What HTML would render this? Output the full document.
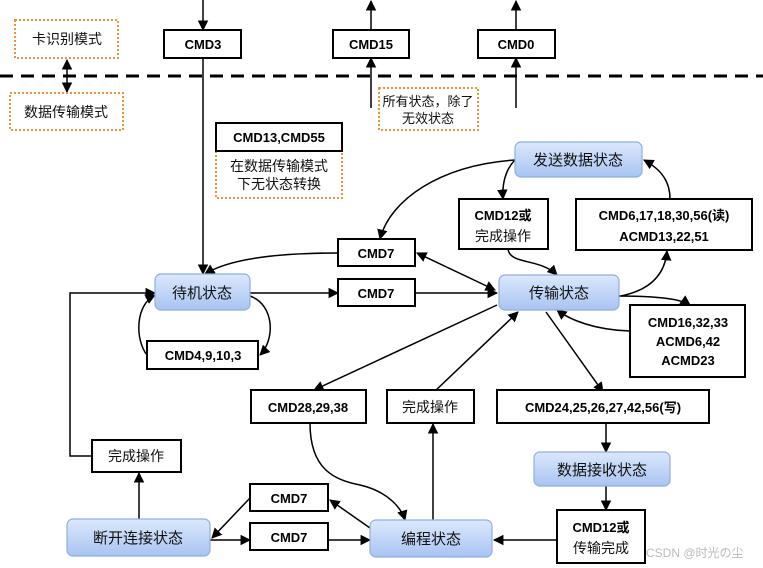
<!DOCTYPE html>
<html><head><meta charset="utf-8"><style>
html,body{margin:0;padding:0;background:#fff;}
svg{display:block;}
.b{font-family:"Liberation Sans","Noto Sans CJK SC",sans-serif;font-weight:bold;font-size:13px;fill:#000;}
.c{font-family:"Liberation Sans","Noto Sans CJK SC",sans-serif;font-size:14px;fill:#111;}
.d{font-family:"Liberation Sans","Noto Sans CJK SC",sans-serif;font-size:13px;fill:#111;}
.s{font-family:"Liberation Sans","Noto Sans CJK SC",sans-serif;font-size:15px;fill:#111;}
</style></head><body>
<svg width="763" height="568" viewBox="0 0 763 568" xmlns="http://www.w3.org/2000/svg">
<defs>
<marker id="a" viewBox="0 0 10 10" refX="9" refY="5" markerWidth="7" markerHeight="7" orient="auto-start-reverse"><path d="M0,0 L10,5 L0,10 z" fill="#000"/></marker>
<linearGradient id="g" x1="0" y1="0" x2="0" y2="1"><stop offset="0" stop-color="#dce8fc"/><stop offset="1" stop-color="#a8c4f2"/></linearGradient>
</defs>
<g fill="none" stroke="#000" stroke-width="1.5">
<line x1="0" y1="76" x2="763" y2="76" stroke-width="3" stroke-dasharray="13,8"/>
<line x1="67" y1="60" x2="67" y2="92" marker-start="url(#a)" marker-end="url(#a)"/>
<line x1="203" y1="0" x2="203" y2="30" marker-end="url(#a)"/>
<line x1="203" y1="58" x2="203" y2="274" marker-end="url(#a)"/>
<line x1="371" y1="30" x2="371" y2="1" marker-end="url(#a)"/>
<line x1="371" y1="108" x2="371" y2="58" marker-end="url(#a)"/>
<line x1="516" y1="30" x2="516" y2="1" marker-end="url(#a)"/>
<line x1="516" y1="108" x2="516" y2="58" marker-end="url(#a)"/>
<path d="M338,253 C280,253 230,258 205,274" marker-end="url(#a)"/>
<line x1="250" y1="293" x2="338" y2="293" marker-end="url(#a)"/>
<line x1="415" y1="293" x2="497" y2="293" marker-end="url(#a)"/>
<path d="M250,296 C275,305 275,340 260,355" marker-end="url(#a)"/>
<path d="M147,355 C135,340 135,305 155,295" marker-end="url(#a)"/>
<line x1="417" y1="253" x2="495" y2="290" marker-start="url(#a)" marker-end="url(#a)"/>
<path d="M515,160 C440,165 390,200 380,239" marker-end="url(#a)"/>
<path d="M515,160 C505,170 502,185 503,199" marker-end="url(#a)"/>
<path d="M508,249 C510,265 540,258 557,275" marker-end="url(#a)"/>
<path d="M621,296 C650,290 665,275 667,251" marker-end="url(#a)"/>
<path d="M670,199 C670,182 662,170 644,160" marker-end="url(#a)"/>
<path d="M619,296 C650,296 680,298 690,305" marker-end="url(#a)"/>
<path d="M630,331 C595,330 570,320 557,310" marker-end="url(#a)"/>
<line x1="497" y1="305" x2="314" y2="390" marker-end="url(#a)"/>
<line x1="434" y1="392" x2="518" y2="312" marker-end="url(#a)"/>
<line x1="546" y1="312" x2="603" y2="392" marker-end="url(#a)"/>
<line x1="606" y1="423" x2="606" y2="452" marker-end="url(#a)"/>
<line x1="606" y1="486" x2="606" y2="510" marker-end="url(#a)"/>
<line x1="557" y1="540" x2="494" y2="540" marker-end="url(#a)"/>
<path d="M310,423 C310,470 335,480 360,485 C390,492 402,510 405,520" marker-end="url(#a)"/>
<line x1="433" y1="520" x2="433" y2="424" marker-end="url(#a)"/>
<line x1="139" y1="519" x2="139" y2="473" marker-end="url(#a)"/>
<polyline points="92,456 70,456 70,293 155,293" marker-end="url(#a)"/>
<line x1="210" y1="540" x2="250" y2="540" marker-end="url(#a)"/>
<line x1="328" y1="540" x2="370" y2="540" marker-end="url(#a)"/>
<line x1="250" y1="498" x2="212" y2="538" marker-end="url(#a)"/>
<line x1="370" y1="528" x2="330" y2="500" marker-end="url(#a)"/>
</g>
<g fill="#fff" stroke="#f0923a" stroke-width="2" stroke-dasharray="2,2">
<rect x="15" y="20" width="103" height="38"/>
<rect x="10" y="93" width="113" height="37"/>
<rect x="379" y="88" width="99" height="42"/>
<rect x="216" y="151" width="126" height="47"/>
</g>
<g fill="#fff" stroke="#000" stroke-width="2">
<rect x="164" y="30" width="77" height="28"/>
<rect x="333" y="30" width="76" height="28"/>
<rect x="478" y="30" width="77" height="28"/>
<rect x="216" y="123" width="126" height="28"/>
<rect x="459" y="199" width="89" height="50"/>
<rect x="576" y="199" width="176" height="51"/>
<rect x="338" y="239" width="77" height="27"/>
<rect x="338" y="279" width="77" height="27"/>
<rect x="630" y="305" width="115" height="72"/>
<rect x="147" y="341" width="111" height="28"/>
<rect x="251" y="390" width="115" height="33"/>
<rect x="387" y="390" width="87" height="33"/>
<rect x="497" y="390" width="212" height="33"/>
<rect x="92" y="440" width="89" height="32"/>
<rect x="250" y="484" width="78" height="27"/>
<rect x="250" y="523" width="78" height="27"/>
<rect x="557" y="510" width="88" height="53"/>
</g>
<g fill="url(#g)" stroke="#8eaee3" stroke-width="1.2">
<rect x="515" y="142" width="127" height="35" rx="6"/>
<rect x="155" y="274" width="95" height="36" rx="6"/>
<rect x="499" y="275" width="120" height="35" rx="6"/>
<rect x="534" y="452" width="136" height="34" rx="6"/>
<rect x="67" y="519" width="143" height="37" rx="6"/>
<rect x="370" y="520" width="122" height="37" rx="6"/>
</g>
<g text-anchor="middle">
<text class="c" x="67" y="44">卡识别模式</text>
<text class="c" x="66" y="117">数据传输模式</text>
<text class="d" x="428" y="106">所有状态，除了</text>
<text class="d" x="428" y="123">无效状态</text>
<text class="c" x="279" y="171">在数据传输模式</text>
<text class="c" x="279" y="189">下无状态转换</text>
<text class="b" x="203" y="49">CMD3</text>
<text class="b" x="371" y="49">CMD15</text>
<text class="b" x="516" y="49">CMD0</text>
<text class="b" x="279" y="142">CMD13,CMD55</text>
<text class="b" x="503" y="220">CMD12或</text>
<text class="c" x="503" y="241">完成操作</text>
<text class="b" x="664" y="220">CMD6,17,18,30,56(读)</text>
<text class="b" x="664" y="241">ACMD13,22,51</text>
<text class="b" x="376" y="258">CMD7</text>
<text class="b" x="376" y="298">CMD7</text>
<text class="b" x="688" y="327">CMD16,32,33</text>
<text class="b" x="688" y="346">ACMD6,42</text>
<text class="b" x="688" y="365">ACMD23</text>
<text class="b" x="203" y="360">CMD4,9,10,3</text>
<text class="b" x="308" y="412">CMD28,29,38</text>
<text class="c" x="430" y="412">完成操作</text>
<text class="b" x="603" y="412">CMD24,25,26,27,42,56(写)</text>
<text class="c" x="136" y="461">完成操作</text>
<text class="b" x="289" y="503">CMD7</text>
<text class="b" x="289" y="542">CMD7</text>
<text class="b" x="601" y="532">CMD12或</text>
<text class="c" x="601" y="553">传输完成</text>
<text class="s" x="578" y="165">发送数据状态</text>
<text class="s" x="202" y="298">待机状态</text>
<text class="s" x="559" y="298">传输状态</text>
<text class="s" x="602" y="475">数据接收状态</text>
<text class="s" x="138" y="543">断开连接状态</text>
<text class="s" x="431" y="544">编程状态</text>
</g>
<text x="646" y="557" font-family="Liberation Sans,Noto Sans CJK SC,sans-serif" font-size="12" fill="#bbb">CSDN @时光の尘</text>
</svg>
</body></html>
